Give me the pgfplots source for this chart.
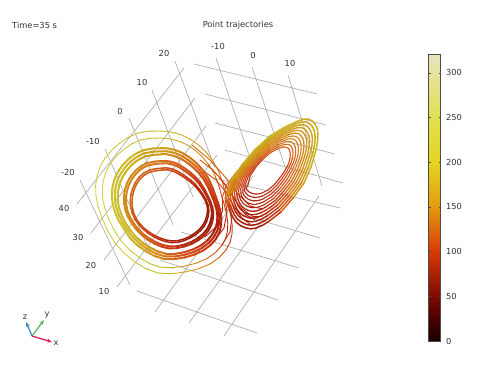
\documentclass[border=0pt]{standalone}
\usepackage{fontspec}
\setmainfont{DejaVu Sans}
\usepackage{pgfplots}
\usetikzlibrary{arrows.meta}
\pgfplotsset{compat=1.18}
\definecolor{gridg}{RGB}{176,176,176}
\definecolor{txt}{RGB}{50,50,50}
\definecolor{ax1}{RGB}{216,30,91}
\definecolor{ax2}{RGB}{92,184,92}
\definecolor{ax3}{RGB}{74,134,200}
\pgfplotsset{
 colormap={tube}{rgb255(0)=(30,0,0) rgb255(25)=(130,12,4) rgb255(50)=(165,28,10) rgb255(100)=(208,66,22) rgb255(150)=(212,132,24) rgb255(200)=(202,182,32) rgb255(250)=(216,208,70) rgb255(321)=(226,218,150)},
 colormap={lava}{rgb255(0)=(24,0,0) rgb255(25)=(75,0,0) rgb255(50)=(125,10,0) rgb255(100)=(216,58,5) rgb255(150)=(229,154,16) rgb255(200)=(230,213,32) rgb255(250)=(224,224,80) rgb255(321)=(232,228,192)},
 tr/.style={mesh,colormap name=tube,point meta=explicit,no marks,line cap=round,line join=round,line width=#1},
 gl/.style={draw=gridg,line width=0.7pt,no marks},
}
\begin{document}
\begin{tikzpicture}
\path[use as bounding box] (0,0) rectangle (498pt,378pt);
\begin{axis}[at={(0,0)},anchor=south west,scale only axis,width=498pt,height=378pt,
 xmin=0,xmax=498,ymin=0,ymax=378,y dir=reverse,hide axis,clip=false,
 point meta min=0,point meta max=321,
 colormap name=lava,
 colorbar,
 colorbar style={at={(parent axis.south west)},anchor=south west,xshift=420pt,yshift=37pt,
  scale only axis,width=12pt,height=287pt,
  ymin=0,ymax=321,ytick={0,50,100,150,200,250,300},
  yticklabel pos=right,ytick pos=both,tick align=inside,major tick length=2pt,
  axis line style={draw=black!70},
  tick style={draw=black!70,line width=0.5pt},
  yticklabel style={font=\fontsize{8.3pt}{10pt}\selectfont,text=txt,/pgf/number format/assume math mode=true,xshift=2pt},
 },
]
% grid
\addplot[gl] coordinates {(175,61)(215,168)};
\addplot[gl] coordinates {(152,90)(193,197)};
\addplot[gl] coordinates {(129,118)(173,225)};
\addplot[gl] coordinates {(105,149)(150,252)};
\addplot[gl] coordinates {(80,180)(130,285)};
\addplot[gl] coordinates {(77,204)(184,68)};
\addplot[gl] coordinates {(91,233)(195,98)};
\addplot[gl] coordinates {(104,260)(206,126)};
\addplot[gl] coordinates {(117,287)(217,155)};
\addplot[gl] coordinates {(155,312)(253,176)};
\addplot[gl] coordinates {(189,323)(287,186)};
\addplot[gl] coordinates {(224,336)(319,196)};
\addplot[gl] coordinates {(194,64)(317,94)};
\addplot[gl] coordinates {(205,94)(326,125)};
\addplot[gl] coordinates {(215,123)(335,154)};
\addplot[gl] coordinates {(225,150)(343,183)};
\addplot[gl] coordinates {(213,178)(340,208)};
\addplot[gl] coordinates {(216,58)(253,167)};
\addplot[gl] coordinates {(252,67)(286,170)};
\addplot[gl] coordinates {(288,75)(322,186)};
\addplot[gl] coordinates {(203,203)(320,238)};
\addplot[gl] coordinates {(181,232)(299,268)};
\addplot[gl] coordinates {(160,260)(278,300)};
\addplot[gl] coordinates {(137,291)(257,333)};
% left lobe, outer rings
\addplot[tr=0.9pt] coordinates {(160,131)[205](149.2,131.2)[210](138,133)[215](128.6,137.2)[222](120,143)[230](111.9,150)[235](105,158)[240](100.1,166.7)[242](97,176)[245](95.6,185.7)[248](96,196)[250](98.1,206.7)[248](102,218)[245](107.6,230.7)[242](115,243)[240](124.4,253.4)[235](135,262)[230](146.1,268.8)[220](158,273)[210](171.4,273.7)[200](185,272)[190](198.2,268.8)[165](210,264)[140](219.2,257.5)[120](226,250)[100](230.1,242.2)[90](232,234)[80](232.2,225.8)[80](231,217)[80](228.9,206.9)[95](226,196)[110](223,183.9)[130](219,172)[150](213.1,161.3)[160](206,152)[170](198.1,144.6)[180](190,139)[190](182.4,135.3)[195](175,133)[200](167.9,131.5)[203](160,131)[205]};
\addplot[tr=0.9pt] coordinates {(160.5,138)[205](150.6,138.3)[210](140.2,140)[215](131.5,144)[222](123.6,149.5)[230](116.3,156.2)[235](110.2,163.8)[240](105.9,172)[242](103.3,180.7)[245](102.2,189.7)[248](102.8,199.2)[250](105,209)[248](108.8,219.1)[245](114.2,230.3)[242](121.1,241)[240](129.8,250.1)[232](139.5,257.7)[225](149.7,263.6)[215](160.5,267.2)[205](172.6,267.7)[192](184.8,266.1)[180](196.7,263)[155](207.3,258.4)[130](215.6,252.4)[110](221.9,245.5)[90](225.7,238.2)[82](227.5,230.6)[75](227.8,223)[75](226.7,214.8)[75](224.6,205.7)[88](221.7,195.8)[100](218.6,185)[120](214.5,174.3)[140](208.9,164.9)[150](202.2,156.7)[160](194.8,150)[170](187.3,144.9)[180](180.4,141.7)[188](173.7,139.7)[195](167.5,138.4)[200](160.5,138)[205]};
% left lobe, wide yellow band
\addplot[tr=2pt] coordinates {(161.8,154.4)[170](153.8,154.8)[175](145.2,156.4)[180](138.2,159.8)[187](132,164.6)[195](126.7,170.5)[200](122.4,177.2)[205](119.5,184.2)[207](118,191.6)[210](117.7,199.1)[211](118.8,206.8)[213](121.2,214.3)[211](124.8,221.6)[210](129.6,229.3)[205](135.4,236.4)[200](142.3,242.5)[185](150,247.6)[170](158,251.5)[153](166.4,253.8)[135](175.4,253.8)[120](184.4,252.2)[105](193.2,249.4)[95](201,245.4)[85](207.3,240.6)[75](212.2,235)[65](215.3,228.9)[60](217,222.6)[55](217.4,216.3)[59](216.6,209.8)[63](214.6,202.8)[74](211.6,195.4)[85](208.2,187.4)[95](204,179.8)[105](199,173.2)[113](193.4,167.6)[120](187.2,162.7)[130](181,158.8)[140](175.7,156.5)[150](170.8,155.2)[160](166.7,154.4)[165](161.8,154.4)[170]};
\addplot[tr=2pt] coordinates {(161.6,151.3)[175](153.2,151.7)[180](144.2,153.3)[185](136.9,156.8)[192](130.4,161.7)[200](124.7,167.8)[205](120.1,174.6)[210](116.9,181.9)[212](115.2,189.5)[215](114.8,197.3)[216](115.8,205.4)[218](118.1,213.3)[216](121.8,221.1)[215](127,229.5)[210](132.7,237.3)[205](139.9,243.8)[190](148,249.5)[175](156.4,253.8)[158](165.3,256.4)[140](174.9,256.5)[125](184.5,254.8)[110](193.8,252)[100](202.2,247.9)[90](208.9,242.8)[80](214,237)[70](217.3,230.7)[65](219,224.1)[60](219.4,217.6)[64](218.5,210.8)[68](216.5,203.3)[79](213.5,195.5)[90](210.2,187)[100](206,178.8)[110](200.9,171.6)[118](195.1,165.5)[125](188.6,160.3)[135](182.2,156.2)[145](176.6,153.7)[155](171.4,152.2)[165](166.9,151.4)[170](161.6,151.3)[175]};
\addplot[tr=2pt] coordinates {(161.3,148.2)[180](152.5,148.5)[185](143.3,150.2)[190](135.6,153.8)[197](128.8,158.8)[205](122.7,165)[210](117.8,172.1)[215](114.4,179.5)[217](112.4,187.4)[220](111.8,195.6)[221](112.7,203.9)[223](115,212.2)[221](118.7,220.6)[220](124.4,229.6)[215](130,238.2)[210](137.6,245.4)[195](146,251.4)[180](154.8,256.1)[163](164.2,258.9)[145](174.3,259.1)[130](184.6,257.5)[115](194.5,254.5)[105](203.4,250.4)[95](210.5,245.1)[85](215.9,239)[75](219.3,232.5)[70](221,225.6)[65](221.4,218.8)[69](220.4,211.7)[73](218.4,203.9)[84](215.4,195.6)[95](212.1,186.5)[105](208,177.7)[115](202.8,170.1)[123](196.8,163.4)[130](190.1,157.8)[140](183.4,153.5)[150](177.5,150.8)[160](171.9,149.3)[170](167,148.3)[175](161.3,148.2)[180]};
% left lobe, second band
\addplot[tr=1.9pt] coordinates {(162.5,163.4)[130](155.5,163.9)[135](148,165.4)[140](141.9,168.5)[145](136.6,172.9)[150](132.3,178.4)[152](129.1,184.6)[155](127,190.9)[156](126,197.6)[158](126.2,204.3)[156](127.5,210.9)[155](130.1,217.2)[152](133.5,223)[150](138,228.7)[142](143.2,233.9)[135](149.2,238.4)[122](155.8,242.1)[110](162.5,244.9)[100](169.6,246.4)[90](177,246.2)[80](184.2,244.6)[70](191.2,241.9)[62](197.6,238.3)[55](202.8,234.1)[52](206.9,229.3)[50](209.7,223.9)[49](211.3,218.2)[48](211.8,212.7)[52](211.1,207)[55](209.1,201.2)[62](206.1,195.2)[70](202.5,188.8)[79](198.3,182.8)[88](193.6,177.8)[96](188.6,173.6)[105](183,169.6)[112](177.6,166.4)[120](173.1,164.6)[122](169.2,163.7)[125](166.2,163.2)[128](162.5,163.4)[130]};
\addplot[tr=1.9pt] coordinates {(162.3,161)[132](155,161.5)[137](147.2,163)[142](140.9,166.2)[147](135.4,170.7)[152](130.8,176.3)[154](127.3,182.6)[157](125,189.2)[158](124,196)[160](124,202.9)[158](125.3,209.9)[157](127.7,216.4)[154](131.3,222.6)[152](135.8,228.9)[144](141.2,234.5)[137](147.4,239.5)[124](154.3,243.5)[112](161.3,246.6)[102](168.8,248.4)[92](176.6,248.2)[82](184.2,246.6)[72](191.7,243.9)[64](198.5,240.1)[57](204,235.8)[54](208.3,230.8)[52](211.2,225.2)[51](212.8,219.4)[50](213.3,213.6)[54](212.5,207.8)[57](210.5,201.6)[64](207.5,195.2)[72](204,188.4)[81](199.8,182)[90](195,176.6)[98](189.8,172)[107](184.1,167.8)[114](178.5,164.4)[122](173.8,162.5)[124](169.6,161.5)[127](166.4,160.9)[130](162.3,161)[132]};
% left lobe, inner rings
\addplot[tr=1.5pt] coordinates {(163,170)[110](156.8,170.6)[112](150,172)[115](144.6,174.9)[118](140,179)[120](136.5,184.2)[120](134,190)[120](132.5,195.9)[120](132,202)[120](132.5,208.1)[118](134,214)[115](136.6,219.3)[110](140,224)[105](144.2,228.3)[100](149,232)[95](154.3,235.3)[85](160,238)[75](165.9,240)[68](172,241)[60](178.1,240.6)[55](184,239)[50](189.8,236.4)[46](195,233)[42](199.4,229.3)[40](203,225)[38](205.5,220.1)[38](207,215)[38](207.6,210)[42](207,205)[45](205,200)[50](202,195)[55](198.3,189.8)[62](194,185)[70](189.6,181.2)[78](185,178)[85](179.9,174.7)[90](175,172)[95](171.2,170.6)[100](168,170)[105](165.9,169.7)[108](163,170)[110]};
\addplot[tr=1.5pt] coordinates {(162.9,168.1)[112](156.4,168.6)[114](149.4,170.1)[117](143.8,173)[120](139,177.2)[122](135.3,182.5)[122](132.6,188.4)[122](130.9,194.4)[122](130.3,200.7)[122](130.7,207)[120](132.1,213.1)[117](134.7,218.7)[112](138.1,223.7)[107](142.4,228.4)[102](147.3,232.6)[97](152.8,236.2)[87](158.8,239.2)[77](164.9,241.4)[70](171.3,242.6)[62](177.8,242.3)[57](184,240.7)[52](190.2,238)[48](195.8,234.6)[44](200.4,230.7)[42](204.2,226.3)[40](206.7,221.2)[40](208.3,216)[40](208.8,210.8)[44](208.2,205.6)[47](206.2,200.3)[52](203.2,195)[57](199.5,189.5)[64](195.3,184.4)[72](190.8,180.2)[80](186,176.7)[87](180.8,173.2)[92](175.8,170.4)[97](171.8,168.8)[102](168.4,168.2)[107](166,167.8)[110](162.9,168.1)[112]};
% central strands
\addplot[tr=0.9pt] coordinates {(205,172)[110](216,180)[100](225,191)[90](233,205)[70](242,218)[50](250,224)[45]};
\addplot[tr=0.9pt] coordinates {(200,160)[120](213,170)[110](225,184)[100](235,200)[80](245,214)[60](255,220)[55]};
\addplot[tr=0.9pt] coordinates {(208,165)[120](220,178)[110](231,194)[95](241,208)[75](252,216)[62](262,216)[60]};
\addplot[tr=0.9pt] coordinates {(192,145)[135](210,160)[125](226,178)[110](238,194)[90](250,206)[70](263,209)[65]};
\addplot[tr=0.9pt] coordinates {(205,237)[50](217,226)[50](222,212)[60](222,198)[90](227,184)[130](238,170)[170]};
\addplot[tr=0.9pt] coordinates {(215,240)[70](224,228)[60](227,212)[65](225,198)[95](229,183)[135](240,168)[175]};
\addplot[tr=0.9pt] coordinates {(222,245)[90](230,232)[80](232,216)[70](228,200)[90](231,182)[140](243,165)[180]};
% central thick band under the right lobe
\addplot[tr=4.5pt] coordinates {(229,194)[135](235,179)[160](244,165)[178](256,151)[188](268,140)[180]};
% right lobe
\addplot[tr=1.1pt] coordinates {(248,185)[70](250,176)[80](256,167)[90](263,159)[105](270,153)[115](277,149)[120](283,147)[125](285.8,147.1)[125](288,148)[125](289.3,149.7)[122](290,152)[120](290.3,154.8)[118](290,158)[115](289.3,161.4)[110](288,165)[105](284,172)[95](279,179)[85](274,185)[80](268,190)[75](262,193)[70](258.9,193.8)[69](256,194)[68](253.3,193.7)[66](251,193)[65](249.3,192.1)[65](248,191)[65](246.7,189.6)[65](246,188)[65](246.8,186.9)[68](248,185)[70]};
\addplot[tr=1.1pt] coordinates {(244.9,186.2)[78](248.2,176.4)[90](254.6,166.8)[100](262.2,158.1)[114](270,151.3)[123](277.8,146.8)[127](284.5,144.4)[132](287.6,144.3)[132](290,145.1)[132](291.6,146.8)[130](292.5,149.2)[127](293,152.2)[125](292.8,155.6)[123](292.1,159.4)[118](290.8,163.5)[114](286.7,171.5)[104](281.5,179.4)[94](275.9,186.3)[87](269.3,192.2)[78](262.6,195.9)[70](259.2,197)[68](256,197.4)[66](253.1,197.2)[64](250.5,196.5)[63](248.4,195.5)[63](246.8,194.1)[64](245.3,192.3)[65](244.4,190.3)[67](244.8,188.7)[72](244.9,186.2)[78]};
\addplot[tr=1.1pt] coordinates {(242.8,187.4)[86](246.4,176.8)[99](253.2,166.6)[110](261.4,157.2)[123](270,149.6)[131](278.6,144.6)[135](286,141.8)[139](289.3,141.5)[138](292,142.2)[138](293.8,143.9)[136](295,146.4)[135](295.7,149.5)[133](295.6,153.2)[132](295,157.4)[128](293.6,162)[124](289.4,171)[114](284,179.8)[104](277.8,187.6)[94](270.6,194.4)[80](263.2,198.8)[70](259.5,200.2)[67](256,200.8)[64](252.8,200.7)[62](250,200)[61](247.6,198.8)[62](245.6,197.2)[63](243.9,195.1)[65](242.8,192.6)[68](242.9,190.4)[76](242.8,187.4)[86]};
\addplot[tr=1.1pt] coordinates {(240.7,188.6)[94](244.6,177.2)[108](251.8,166.4)[120](260.6,156.3)[132](270,147.9)[139](279.4,142.4)[142](287.5,139.2)[146](291.1,138.8)[146](294,139.3)[145](296.1,141)[143](297.5,143.6)[142](298.3,146.9)[141](298.4,150.8)[140](297.8,155.5)[136](296.4,160.5)[133](292.1,170.5)[123](286.5,180.2)[113](279.7,188.9)[101](271.9,196.6)[83](263.8,201.7)[70](259.8,203.3)[66](256,204.2)[63](252.6,204.2)[61](249.5,203.5)[59](246.7,202.2)[60](244.4,200.3)[62](242.5,197.8)[66](241.2,194.9)[70](240.9,192.2)[82](240.7,188.6)[94]};
\addplot[tr=1.1pt] coordinates {(238.6,189.8)[102](242.8,177.6)[118](250.4,166.2)[130](259.8,155.4)[141](270,146.2)[147](280.2,140.2)[150](289,136.6)[153](292.8,136)[152](296,136.4)[151](298.3,138.1)[150](300,140.8)[150](301,144.2)[150](301.2,148.4)[149](300.6,153.5)[146](299.2,159)[143](294.8,170)[133](289,180.6)[123](281.6,190.2)[108](273.2,198.8)[85](264.4,204.6)[70](260.1,206.5)[65](256,207.6)[61](252.3,207.7)[59](249,207)[57](245.9,205.5)[59](243.2,203.4)[61](241.1,200.6)[66](239.6,197.2)[71](239,193.9)[86](238.6,189.8)[102]};
\addplot[tr=1.3pt] coordinates {(236.5,191)[110](241,178)[128](249,166)[140](259,154.5)[150](270,144.5)[155](281,138)[158](290.5,134)[160](294.6,133.2)[159](298,133.5)[158](300.6,135.2)[158](302.5,138)[158](303.7,141.6)[158](304,146)[158](303.4,151.5)[155](302,157.5)[153](297.5,169.5)[143](291.5,181)[133](283.5,191.5)[115](274.5,201)[88](265,207.5)[70](260.4,209.7)[64](256,211)[59](252.1,211.3)[57](248.5,210.5)[55](245,208.9)[57](242,206.5)[60](239.7,203.3)[66](238,199.5)[73](237,195.7)[92](236.5,191)[110]};
\addplot[tr=1.3pt] coordinates {(234.4,192.2)[118](239.2,178.4)[137](247.6,165.8)[150](258.2,153.6)[159](270,142.8)[163](281.8,135.8)[165](292,131.4)[167](296.4,130.4)[165](300,130.6)[164](302.9,132.3)[164](305,135.2)[165](306.4,138.9)[165](306.8,143.6)[166](306.2,149.5)[164](304.8,156)[162](300.2,169)[152](294,181.4)[142](285.4,192.8)[122](275.8,203.2)[90](265.6,210.4)[70](260.6,212.9)[63](256,214.4)[57](251.9,214.8)[55](248,214)[53](244.1,212.3)[56](240.8,209.6)[59](238.2,206)[66](236.4,201.8)[74](235,197.4)[96](234.4,192.2)[118]};
\addplot[tr=1.4pt] coordinates {(232.3,193.4)[126](237.4,178.8)[146](246.2,165.6)[160](257.4,152.7)[168](270,141.1)[171](282.6,133.6)[172](293.5,128.8)[174](298.1,127.6)[172](302,127.7)[170](305.1,129.4)[171](307.5,132.4)[172](309.1,136.3)[173](309.6,141.2)[174](309,147.5)[172](307.6,154.5)[171](302.9,168.5)[161](296.5,181.8)[151](287.3,194.1)[129](277.1,205.4)[92](266.2,213.3)[70](260.9,216.1)[62](256,217.8)[55](251.6,218.3)[53](247.5,217.5)[51](243.3,215.6)[54](239.6,212.7)[58](236.8,208.8)[66](234.8,204.1)[75](233.1,199.2)[100](232.3,193.4)[126]};
\addplot[tr=1.4pt] coordinates {(230.2,194.6)[134](235.6,179.2)[156](244.8,165.4)[170](256.6,151.8)[177](270,139.4)[179](283.4,131.4)[180](295,126.2)[181](299.9,124.9)[179](304,124.8)[177](307.4,126.5)[178](310,129.6)[180](311.7,133.6)[181](312.4,138.8)[183](311.9,145.6)[182](310.4,153)[181](305.6,168)[171](299,182.2)[161](289.2,195.4)[136](278.4,207.6)[95](266.8,216.2)[70](261.2,219.2)[62](256,221.2)[54](251.4,221.8)[51](247,221)[49](242.4,219)[53](238.4,215.8)[57](235.4,211.5)[67](233.2,206.4)[77](231.1,200.9)[105](230.2,194.6)[134]};
\addplot[tr=1.5pt] coordinates {(228.1,195.8)[142](233.8,179.6)[165](243.4,165.2)[180](255.8,150.9)[186](270,137.7)[187](284.2,129.2)[187](296.5,123.6)[188](301.6,122.1)[185](306,121.9)[183](309.6,123.6)[185](312.5,126.8)[187](314.4,131)[189](315.2,136.4)[191](314.7,143.6)[190](313.2,151.5)[190](308.3,167.5)[180](301.5,182.6)[170](291.1,196.7)[143](279.7,209.8)[97](267.4,219.1)[70](261.5,222.4)[61](256,224.6)[52](251.1,225.3)[49](246.5,224.5)[47](241.6,222.3)[51](237.2,218.9)[56](234,214.3)[67](231.6,208.7)[78](229.2,202.7)[110](228.1,195.8)[142]};
\addplot[tr=1.5pt] coordinates {(226,197)[150](232,180)[175](242,165)[190](255,150)[195](270,136)[195](285,127)[195](298,121)[195](303.4,119.3)[192](308,119)[190](311.9,120.7)[192](315,124)[195](317.1,128.3)[197](318,134)[200](317.5,141.6)[200](316,150)[200](311,167)[190](304,183)[180](293,198)[150](281,212)[100](268,222)[70](261.8,225.6)[60](256,228)[50](250.9,228.8)[47](246,228)[45](240.7,225.7)[50](236,222)[55](232.6,217)[67](230,211)[80](227.2,204.4)[115](226,197)[150]};
% triad
\addplot[no marks,draw=ax1,line width=1.3pt,-{Stealth[length=5pt,width=4pt]}] coordinates {(32,336)(52,342)};
\addplot[no marks,draw=ax2,line width=1.3pt,-{Stealth[length=5pt,width=4pt]}] coordinates {(32,336)(44,320)};
\addplot[no marks,draw=ax3,line width=1.3pt,-{Stealth[length=5pt,width=4pt]}] coordinates {(32,336)(26,322)};
% texts
\begin{scope}[every node/.style={font=\fontsize{8.3pt}{10pt}\selectfont,text=txt,inner sep=0pt}]
\node[anchor=west] at (axis cs:12,25) {Time=35 s};
\node at (axis cs:238,25) {Point trajectories};
\node at (axis cs:164,53) {20};
\node at (axis cs:142,82) {10};
\node at (axis cs:120,111) {0};
\node at (axis cs:93,141) {-10};
\node at (axis cs:68,172) {-20};
\node at (axis cs:64,208) {40};
\node at (axis cs:78,237) {30};
\node at (axis cs:91,265) {20};
\node at (axis cs:104,291) {10};
\node at (axis cs:218,46) {-10};
\node at (axis cs:253,55) {0};
\node at (axis cs:290,63) {10};
\node at (axis cs:25,317) {z};
\node at (axis cs:47,315) {y};
\node at (axis cs:56,343) {x};
\end{scope}
\end{axis}
\end{tikzpicture}
\end{document}
